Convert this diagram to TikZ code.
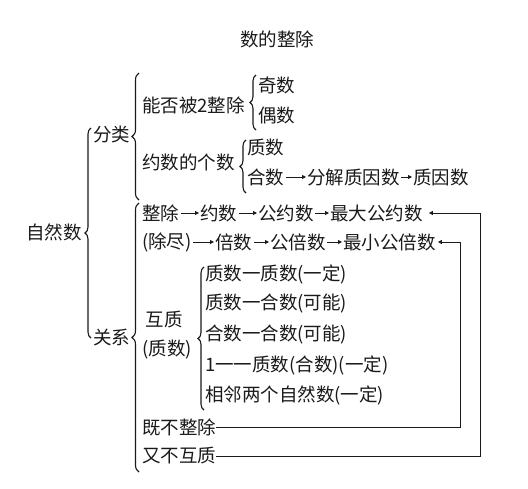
\documentclass[tikz,border=0pt]{standalone}
\usepackage{fontspec}
\setmainfont{Noto Sans CJK SC}
\usetikzlibrary{arrows.meta,decorations.pathreplacing}
\definecolor{ink}{HTML}{1A1A1A}
\begin{document}
\begin{tikzpicture}[x=1pt,y=-1pt,
 txt/.style={font=\fontsize{18.5}{22}\selectfont, inner sep=0pt, anchor=west, text=ink},
 br/.style={decorate, decoration={brace,amplitude=#1}, line width=1.1pt, draw=ink},
 arr/.style={draw=ink, line width=0.9pt, -{Triangle[length=4pt,width=4pt]}, shorten <=1.5pt, shorten >=1pt},
 fb/.style={draw=ink, line width=0.9pt, -{Triangle[length=4pt,width=4pt]}}]
\fill[white] (0,0) rectangle (528,488);
\useasboundingbox (0,0) rectangle (528,488);

\node[txt, anchor=center] (title) at (277,39) {数的整除};
\node[txt] (zrs) at (26,232) {自然数};
\node[txt] (fl) at (93,135) {分类};
\node[txt] (gx) at (93,337) {关系};
\node[txt] (nf) at (142,105) {能否被2整除};
\node[txt] (js) at (258,85) {奇数};
\node[txt] (os) at (258,115) {偶数};
\node[txt] (ysg) at (142,162) {约数的个数};
\node[txt] (zs) at (247,147) {质数};
\node[txt] (hs) at (247,177) {合数};
\node[txt] (fj) at (307,177) {分解质因数};
\node[txt] (zys) at (413,177) {质因数};
\draw[arr] (hs) -- (fj);
\draw[arr] (fj) -- (zys);

% row 1
\node[txt] (zc) at (142,213) {整除};
\node[txt] (ys) at (200,213) {约数};
\node[txt] (gys) at (258,213) {公约数};
\node[txt] (zdgys) at (330,213) {最大公约数};
\draw[arr] (zc) -- (ys);
\draw[arr] (ys) -- (gys);
\draw[arr] (gys) -- (zdgys);
% row 2
\node[txt] (cj) at (142,242) {(除尽)};
\node[txt] (bs) at (215,242) {倍数};
\node[txt] (gbs) at (270,242) {公倍数};
\node[txt] (zxgbs) at (343,242) {最小公倍数};
\draw[arr] (cj) -- (bs);
\draw[arr] (bs) -- (gbs);
\draw[arr] (gbs) -- (zxgbs);

% coprime
\node[txt, anchor=center] (hz) at (164,320) {互质};
\node[txt, anchor=center] (hzs) at (167,350) {(质数)};
\node[txt] (i1) at (205,274) {质数一质数(一定)};
\node[txt] (i2) at (205,304) {质数一合数(可能)};
\node[txt] (i3) at (205,335) {合数一合数(可能)};
\node[txt] (i4) at (205,365) {1一一质数(合数)(一定)};
\node[txt] (i5) at (205,395) {相邻两个自然数(一定)};

\node[txt] (jbzc) at (142,427) {既不整除};
\node[txt] (ybhz) at (142,456) {又不互质};

\coordinate (c1) at (480,213);
\coordinate (c2) at (460,242);
\draw[fb] (ybhz.east) -| (c1) -- ([xshift=6pt]zdgys.east);
\draw[fb] (jbzc.east) -| (c2) -- ([xshift=2pt]zxgbs.east);

% braces
\draw[br=6pt] (91,338) -- (91,128);
\draw[br=7pt] (139,200) -- (139,73);
\draw[br=7pt] (139,472) -- (139,203);
\draw[br=6pt] (256,130) -- (256,75);
\draw[br=6pt] (246,193) -- (246,140);
\draw[br=6pt] (204,410) -- (204,267);
\end{tikzpicture}
\end{document}
